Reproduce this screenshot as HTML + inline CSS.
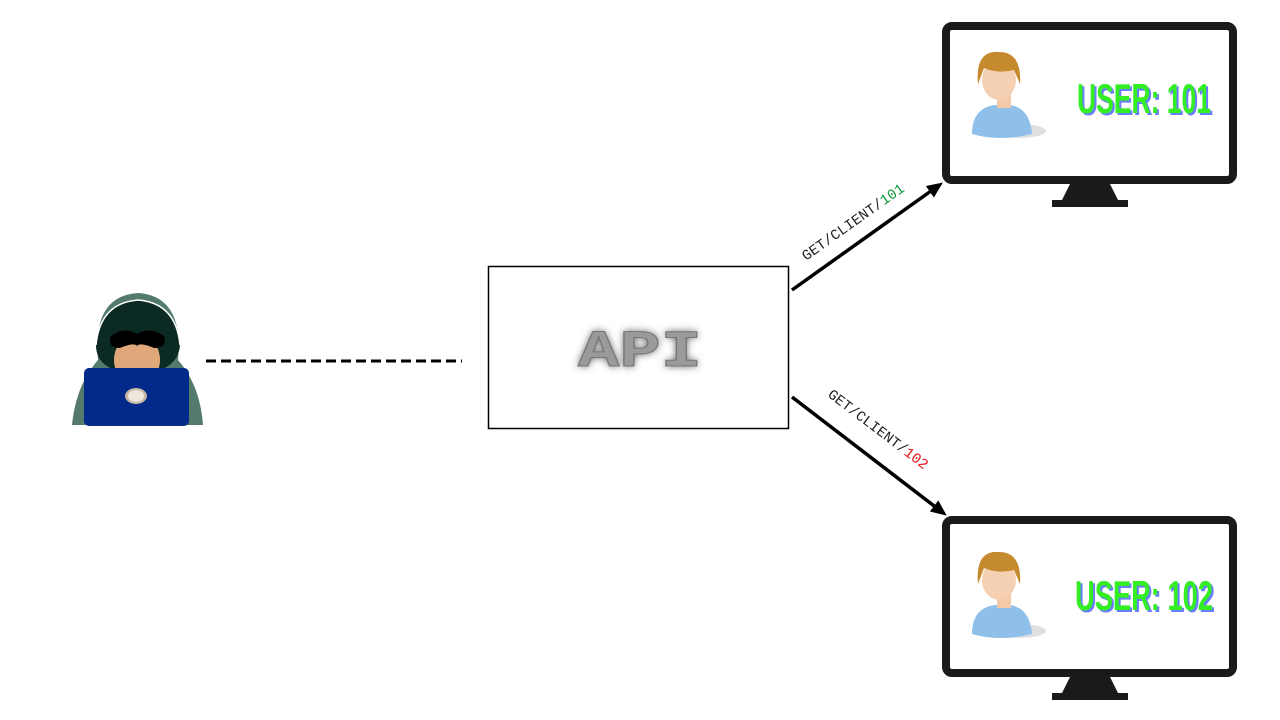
<!DOCTYPE html>
<html><head><meta charset="utf-8"><style>
html,body{margin:0;padding:0;background:#fff;width:1280px;height:720px;overflow:hidden}
</style></head><body>
<svg width="1280" height="720" viewBox="0 0 1280 720" xmlns="http://www.w3.org/2000/svg">
<defs>
<filter id="sh" x="-30%" y="-50%" width="160%" height="200%"><feGaussianBlur stdDeviation="4"/></filter>
<marker id="ah" markerWidth="16" markerHeight="14" refX="10" refY="7" orient="auto" markerUnits="userSpaceOnUse"><path d="M0,0 L16,7 L0,14 z" fill="#000"/></marker>
</defs>

<!-- hacker -->
<path d="M72,425 Q76,385 98,360 Q92,296 138,293 Q184,296 178,360 Q200,385 203,425 Z" fill="#547a6c"/>
<path d="M96,345 Q100,303 138,300 Q176,303 180,345 Q178,372 138,374 Q96,372 96,345Z" fill="#0c2a24"/>
<path d="M96,345 Q100,303 138,300 Q176,303 180,345" fill="none" stroke="#fff" stroke-width="1.5"/>
<ellipse cx="137" cy="360" rx="23" ry="26" fill="#dfa77a"/>
<path d="M111,336 Q124,326 137,334 Q150,326 164,336 Q168,348 154,348 Q140,342 137,346 Q134,342 120,348 Q107,348 111,336Z" fill="#000"/>
<rect x="84" y="368" width="105" height="58" rx="5" fill="#022a8a"/>
<ellipse cx="136" cy="396" rx="11" ry="8" fill="#c8b8a4"/>
<ellipse cx="136" cy="396" rx="8" ry="6" fill="#eee5dc"/>

<line x1="206" y1="361" x2="462" y2="361" stroke="#000" stroke-width="3" stroke-dasharray="10,5"/>

<rect x="488.5" y="266.5" width="300" height="162" fill="#fff" stroke="#000" stroke-width="1.5"/>
<text x="640" y="366" text-anchor="middle" font-family="Liberation Mono, monospace" font-weight="bold" font-size="52" fill="#555" filter="url(#sh)" textLength="124" lengthAdjust="spacingAndGlyphs">API</text>
<text x="640" y="366" text-anchor="middle" font-family="Liberation Mono, monospace" font-weight="bold" font-size="52" fill="#9a9a9a" stroke="#777" stroke-width="1" textLength="124" lengthAdjust="spacingAndGlyphs">API</text>

<line x1="792" y1="290" x2="938" y2="186" stroke="#000" stroke-width="3.5" marker-end="url(#ah)"/>
<line x1="792" y1="397" x2="942" y2="512" stroke="#000" stroke-width="3.5" marker-end="url(#ah)"/>

<text transform="translate(806,261) rotate(-35.4)" font-family="Liberation Mono, monospace" font-size="14.5" fill="#222">GET/CLIENT/<tspan fill="#0a9a3a">101</tspan></text>
<text transform="translate(827,396) rotate(37.3)" font-family="Liberation Mono, monospace" font-size="14.5" fill="#222">GET/CLIENT/<tspan fill="#e41010">102</tspan></text>

<!-- monitor 1 -->
<g transform="translate(0,26)">
<rect x="946" y="0" width="287" height="154" rx="6" fill="#fff" stroke="#1a1a1a" stroke-width="8"/>
<path d="M1070,158 L1110,158 L1118,174 L1062,174 z" fill="#1a1a1a"/>
<rect x="1052" y="174" width="76" height="7" fill="#1a1a1a"/>
<ellipse cx="1018" cy="105" rx="28" ry="7" fill="#ccc" opacity="0.6"/>
<path d="M972,108 Q972,82 995,79 L1010,79 Q1030,82 1032,108 Q1000,116 972,108Z" fill="#8ec0ea"/>
<rect x="997" y="68" width="14" height="14" fill="#f3c9a8"/>
<ellipse cx="999" cy="54" rx="17" ry="20" fill="#f6d0b3"/>
<path d="M978,58 Q975,24 999,26 Q1022,26 1020,58 L1014,44 Q998,48 984,42 Z" fill="#c68a2e"/>
<text x="1146" y="89" text-anchor="middle" font-family="Liberation Sans Narrow, Liberation Sans, sans-serif" font-weight="bold" font-size="42" fill="#6a7cff" textLength="134" lengthAdjust="spacingAndGlyphs">USER: 101</text>
<text x="1144" y="87" text-anchor="middle" font-family="Liberation Sans Narrow, Liberation Sans, sans-serif" font-weight="bold" font-size="42" fill="#33ee22" textLength="134" lengthAdjust="spacingAndGlyphs">USER: 101</text>
</g>
<!-- monitor 2 -->
<g transform="translate(0,520)">
<rect x="946" y="0" width="287" height="153" rx="6" fill="#fff" stroke="#1a1a1a" stroke-width="8"/>
<path d="M1070,157 L1110,157 L1118,173 L1062,173 z" fill="#1a1a1a"/>
<rect x="1052" y="173" width="76" height="7" fill="#1a1a1a"/>
<ellipse cx="1018" cy="111" rx="28" ry="7" fill="#ccc" opacity="0.6"/>
<path d="M972,114 Q972,88 995,85 L1010,85 Q1030,88 1032,114 Q1000,122 972,114Z" fill="#8ec0ea"/>
<rect x="997" y="74" width="14" height="14" fill="#f3c9a8"/>
<ellipse cx="999" cy="60" rx="17" ry="20" fill="#f6d0b3"/>
<path d="M978,64 Q975,30 999,32 Q1022,32 1020,64 L1014,50 Q998,54 984,48 Z" fill="#c68a2e"/>
<text x="1146" y="92" text-anchor="middle" font-family="Liberation Sans Narrow, Liberation Sans, sans-serif" font-weight="bold" font-size="42" fill="#6a7cff" textLength="138" lengthAdjust="spacingAndGlyphs">USER: 102</text>
<text x="1144" y="90" text-anchor="middle" font-family="Liberation Sans Narrow, Liberation Sans, sans-serif" font-weight="bold" font-size="42" fill="#33ee22" textLength="138" lengthAdjust="spacingAndGlyphs">USER: 102</text>
</g>
</svg>
</body></html>
